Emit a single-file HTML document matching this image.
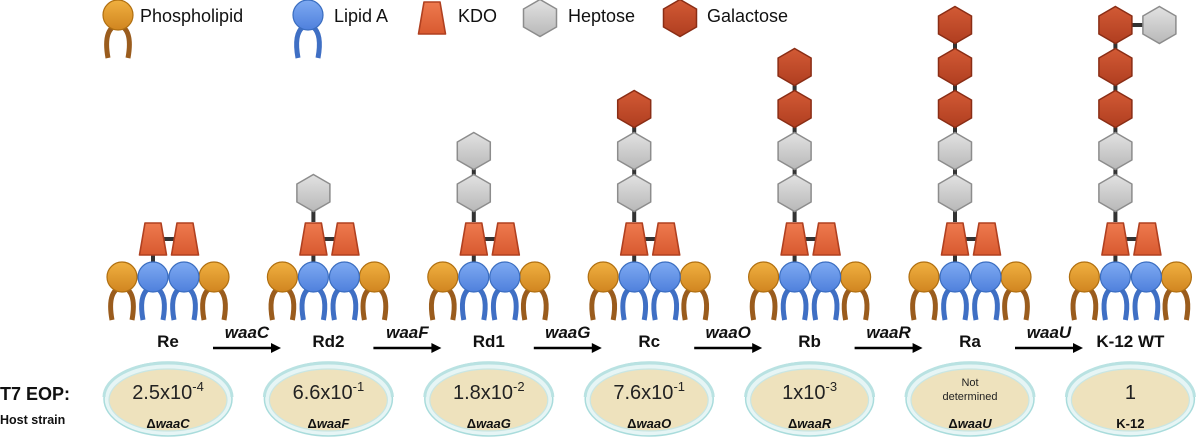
<!DOCTYPE html>
<html><head><meta charset="utf-8"><style>
body{margin:0;background:#fff}
svg{display:block;font-family:"Liberation Sans",sans-serif}
</style></head><body>
<svg id="s" width="1200" height="437" viewBox="0 0 1200 437" xmlns="http://www.w3.org/2000/svg">
<defs>
<linearGradient id="gP" x1="0" y1="0" x2="0" y2="1"><stop offset="0" stop-color="#f0b040"/><stop offset="1" stop-color="#d08520"/></linearGradient>
<linearGradient id="gL" x1="0" y1="0" x2="0" y2="1"><stop offset="0" stop-color="#7eaaf2"/><stop offset="1" stop-color="#4f80dc"/></linearGradient>
<linearGradient id="gK" x1="0" y1="0" x2="0" y2="1"><stop offset="0" stop-color="#ee7a4e"/><stop offset="1" stop-color="#d85a30"/></linearGradient>
<linearGradient id="gH" x1="0" y1="0" x2="0" y2="1"><stop offset="0" stop-color="#e2e2e2"/><stop offset="1" stop-color="#b8b8b8"/></linearGradient>
<linearGradient id="gG" x1="0" y1="0" x2="0" y2="1"><stop offset="0" stop-color="#d25a35"/><stop offset="1" stop-color="#b03e20"/></linearGradient>
</defs>
<g id="g"></g>
</svg>
<script>
var g=document.getElementById('g'),h='';
function hex(x,y,t){var w=16.5,a=18.5,b=9;var f=t?'url(#gG)':'url(#gH)',s=t?'#8a2d15':'#8c8c8c';
h+='<polygon points="'+x+','+(y-a)+' '+(x+w)+','+(y-b)+' '+(x+w)+','+(y+b)+' '+x+','+(y+a)+' '+(x-w)+','+(y+b)+' '+(x-w)+','+(y-b)+'" fill="'+f+'" stroke="'+s+'" stroke-width="1.5"/>';}
function mol(x,y,lip){var c=lip?'#3f6fc4':'#9a5c1d';
h+='<path d="M'+(x-5)+' '+(y+12)+' C'+(x-13)+' '+(y+18)+' '+(x-12)+' '+(y+32)+' '+(x-10)+' '+(y+43)+' M'+(x+5)+' '+(y+12)+' C'+(x+13)+' '+(y+18)+' '+(x+12)+' '+(y+32)+' '+(x+10)+' '+(y+43)+'" fill="none" stroke="'+c+'" stroke-width="5"/>';
h+='<circle cx="'+x+'" cy="'+y+'" r="15" fill="'+(lip?'url(#gL)':'url(#gP)')+'" stroke="'+(lip?'#3a6dc0':'#b06f10')+'" stroke-width="1.2"/>';}
function kdo(x,y){h+='<polygon points="'+(x-8)+','+(y-16)+' '+(x+8)+','+(y-16)+' '+(x+13.5)+','+(y+16)+' '+(x-13.5)+','+(y+16)+'" fill="url(#gK)" stroke="#b04020" stroke-width="1.6" stroke-linejoin="round"/>';}
function line(a,b,c,d){h+='<line x1="'+a+'" y1="'+b+'" x2="'+c+'" y2="'+d+'" stroke="#333" stroke-width="4"/>';}
var names=['Re','Rd2','Rd1','Rc','Rb','Ra','K-12 WT'];
var genes=['waaC','waaF','waaG','waaO','waaR','waaU'];
var vals=['2.5x10<tspan dy="-8" font-size="13">-4</tspan>','6.6x10<tspan dy="-8" font-size="13">-1</tspan>','1.8x10<tspan dy="-8" font-size="13">-2</tspan>','7.6x10<tspan dy="-8" font-size="13">-1</tspan>','1x10<tspan dy="-8" font-size="13">-3</tspan>','','1'];
var hosts=['waaC','waaF','waaG','waaO','waaR','waaU',''];
var chains=[[],['H'],['H','H'],['H','H','G'],['H','H','G','G'],['H','H','G','G','G'],['H','H','G','G','G']];
for(var i=0;i<7;i++){var cx=168+160.4*i,kx=cx-15;
 var ch=chains[i];
 if(ch.length){line(kx,222,kx,193-42*(ch.length-1));}
 if(i==6){line(kx,25,kx+44,25);}
 for(var j=0;j<ch.length;j++)hex(kx,193-42*j,ch[j]=='G');
 if(i==6)hex(kx+44,25,false);
 line(kx,255,kx,265);line(kx,239,cx+15,239);
 kdo(kx,239);kdo(cx+17,239);
 mol(cx-46,277,0);mol(cx+46,277,0);mol(cx-15,277,1);mol(cx+16,277,1);
 h+='<text x="'+cx+'" y="347" font-size="17" font-weight="bold" text-anchor="middle" fill="#111">'+names[i]+'</text>';
 var dy=397;
 h+='<ellipse cx="'+cx+'" cy="'+(dy+2)+'" rx="64" ry="37" fill="#e6f5f5" stroke="#a9dcdc" stroke-width="1.5"/>';
 h+='<ellipse cx="'+cx+'" cy="'+(dy+3)+'" rx="59" ry="31" fill="#eee2bd" stroke="#c9e6e3" stroke-width="1.2"/>';
 h+='<path d="M'+(cx-64)+' '+dy+' A64 34 0 0 1 '+(cx+64)+' '+dy+'" fill="none" stroke="#b9e2e2" stroke-width="3"/>';
 if(i==5){h+='<text x="'+cx+'" y="386" font-size="11" text-anchor="middle" fill="#222">Not</text><text x="'+cx+'" y="400" font-size="11" text-anchor="middle" fill="#222">determined</text>';}
 else h+='<text x="'+cx+'" y="399" font-size="20" text-anchor="middle" fill="#222">'+vals[i]+'</text>';
 var lab=i==6?'K-12':'Δ<tspan font-style="italic">'+hosts[i]+'</tspan>';
 h+='<text x="'+cx+'" y="428" font-size="13" font-weight="bold" text-anchor="middle" fill="#111">'+lab+'</text>';
 if(i<6){var ax=cx+45;
  h+='<line x1="'+ax+'" y1="348" x2="'+(ax+60)+'" y2="348" stroke="#000" stroke-width="2.5"/><polygon points="'+(ax+68)+',348 '+(ax+58)+',343 '+(ax+58)+',353" fill="#000"/>';
  h+='<text x="'+(ax+34)+'" y="338" font-size="17" font-style="italic" font-weight="bold" text-anchor="middle" fill="#111">'+genes[i]+'</text>';}
}
mol(118,15,0);h+='<text x="140" y="22" font-size="18" fill="#111">Phospholipid</text>';
mol(308,15,1);h+='<text x="334" y="22" font-size="18" fill="#111">Lipid A</text>';
kdo(432,18);h+='<text x="458" y="22" font-size="18" fill="#111">KDO</text>';
hex(540,18,false);h+='<text x="568" y="22" font-size="18" fill="#111">Heptose</text>';
hex(680,18,true);h+='<text x="707" y="22" font-size="18" fill="#111">Galactose</text>';
h+='<text x="0" y="400" font-size="18" font-weight="bold" fill="#111">T7 EOP:</text>';
h+='<text x="0" y="424" font-size="12.5" font-weight="bold" fill="#111">Host strain</text>';
g.innerHTML=h;
</script>
</body></html>
